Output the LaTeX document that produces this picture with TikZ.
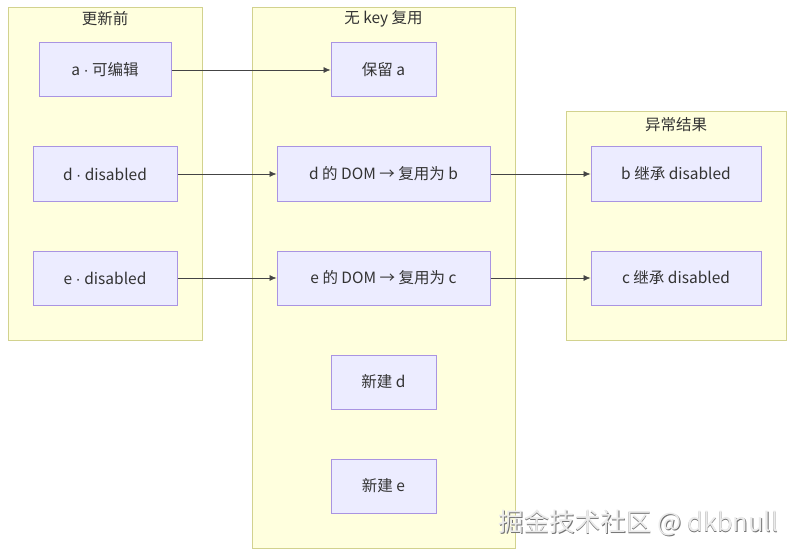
\documentclass[tikz,border=0pt]{standalone}
\usepackage{fontspec}
\setmainfont{Noto Sans CJK SC}
\newfontfamily\latinfont{Liberation Sans}
\usetikzlibrary{positioning,arrows.meta}

\definecolor{boxfill}{HTML}{ECECFF}
\definecolor{boxline}{HTML}{A994E2}
\definecolor{groupfill}{HTML}{FFFFDE}
\definecolor{groupline}{HTML}{D2D28E}
\definecolor{edgeline}{HTML}{444444}

\newcommand{\middot}{ {\latinfont ·} }

\begin{document}
\begin{tikzpicture}[
    x=1pt, y=-1pt,
    every node/.style={font=\fontsize{15.5}{18}\selectfont, text=black!80},
    group/.style={
        draw=groupline,
        fill=groupfill,
        line width=1pt,
        inner sep=0pt
    },
    title/.style={
        font=\fontsize{15.5}{18}\selectfont
    },
    box/.style={
        draw=boxline,
        fill=boxfill,
        line width=1pt,
        minimum height=54pt,
        align=center
    },
    flow/.style={
        draw=edgeline,
        line width=0.7pt,
        -{Latex[length=7pt,width=6pt]}
    }
]
\useasboundingbox (0,0) rectangle (794,556);

% clusters
\node[group, minimum width=194pt, minimum height=332pt] (before) at (105,174) {};
\node[group, minimum width=263pt, minimum height=540pt] (reuse) at (383.5,278) {};
\node[group, minimum width=220pt, minimum height=228pt] (result) at (676,226) {};

\node[title] (tbefore) at (105,19) {更新前};
\node[title] (treuse) at (383.5,19) {无 key 复用};
\node[title] (tresult) at (676,125) {异常结果};

% nodes
\node[box, minimum width=132pt] (a) at (105,70) {a\middot{}可编辑};
\node[box, minimum width=144pt] (d) at (105,174) {d\middot{}disabled};
\node[box, minimum width=144pt] (e) at (105,278) {e\middot{}disabled};

\node[box, minimum width=105pt] (keepa) at (383.5,70) {保留 a};
\node[box, minimum width=213pt] (domd) at (383.5,174) {d 的 DOM → 复用为 b};
\node[box, minimum width=213pt] (dome) at (383.5,278) {e 的 DOM → 复用为 c};
\node[box, minimum width=105pt] (newd) at (383.5,382) {新建 d};
\node[box, minimum width=105pt] (newe) at (383.5,486) {新建 e};

\node[box, minimum width=170pt] (b) at (676,174) {b 继承 disabled};
\node[box, minimum width=170pt] (c) at (676,278) {c 继承 disabled};

% edges
\draw[flow] (a) -- (keepa);
\draw[flow] (d) -- (domd);
\draw[flow] (e) -- (dome);
\draw[flow] (domd) -- (b);
\draw[flow] (dome) -- (c);

% watermark
\node[font=\fontsize{25.5}{30}\selectfont, text=black!55] (markshadow) at (639.2,523.7) {掘金技术社区 @ dkbnull};
\node[font=\fontsize{25.5}{30}\selectfont, text=white!92!black] (mark) at (638.5,523) {掘金技术社区 @ dkbnull};

\end{tikzpicture}
\end{document}
